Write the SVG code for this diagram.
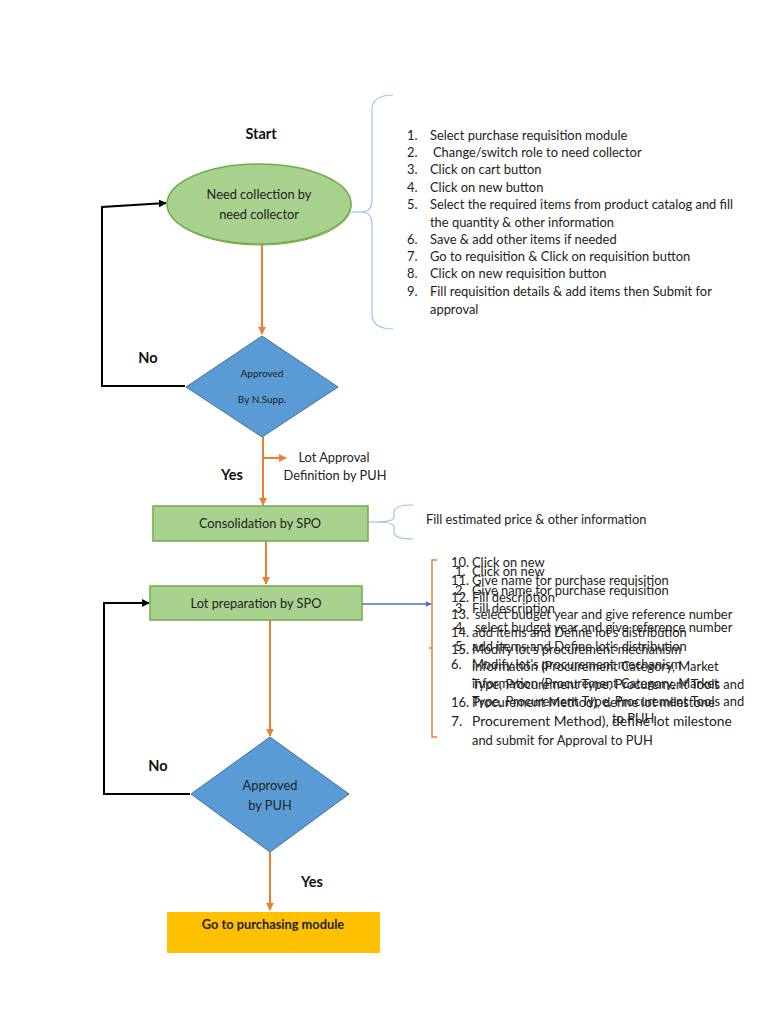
<svg xmlns="http://www.w3.org/2000/svg" width="768" height="1024" viewBox="0 0 768 1024">
<defs>
<marker id="ao" viewBox="0 0 10 10" refX="9" refY="5" markerWidth="4" markerHeight="4" orient="auto"><path d="M0,0 L10,5 L0,10 z" fill="#ED7D31"/></marker>
<marker id="ak" viewBox="0 0 10 10" refX="9" refY="5" markerWidth="4" markerHeight="4" orient="auto"><path d="M0,0 L10,5 L0,10 z" fill="#000"/></marker>
<marker id="ab" viewBox="0 0 10 10" refX="9" refY="5" markerWidth="4" markerHeight="4" orient="auto"><path d="M0,0 L10,5 L0,10 z" fill="#4472C4"/></marker>
</defs>
<style>
text{font-family:Lato,"Liberation Sans",sans-serif;fill:#222;}
.t{font-size:12.8px;}
.b{font-weight:bold;font-size:14.5px;fill:#111;}
.l{font-size:12.9px;}
.g{fill:#A9D18E;stroke:#70AD47;stroke-width:1.5;}
.d{fill:#5B9BD5;stroke:#41719C;stroke-width:1;}
.o{stroke:#ED7D31;stroke-width:2;fill:none;}
.k{stroke:#000;stroke-width:2;fill:none;}
.br{stroke:#9DC3E6;stroke-width:1.2;fill:none;}
</style>
<rect width="768" height="1024" fill="#fff"/>
<g id="connectors">
<line class="o" x1="262" y1="244" x2="262" y2="334" marker-end="url(#ao)"/>
<polyline class="k" points="185,386 102,386 102,207 166,203" marker-end="url(#ak)"/>
<line class="o" x1="263" y1="437" x2="263" y2="505" marker-end="url(#ao)"/>
<line class="o" x1="263" y1="458" x2="286" y2="458" marker-end="url(#ao)"/>
<line class="o" x1="266" y1="541" x2="266" y2="584" marker-end="url(#ao)"/>
<line x1="362" y1="604" x2="431" y2="604" stroke="#4472C4" stroke-width="1.5" marker-end="url(#ab)"/>
<line class="o" x1="270" y1="620" x2="270" y2="736" marker-end="url(#ao)"/>
<polyline class="k" points="190,794 104,794 104,603 149,603" marker-end="url(#ak)"/>
<line class="o" x1="270" y1="852" x2="270" y2="910" marker-end="url(#ao)"/>
<line x1="351" y1="212" x2="362" y2="212" stroke="#9DC3E6" stroke-width="1.2"/>
<line x1="368" y1="522" x2="375" y2="522" stroke="#9DC3E6" stroke-width="1.2"/>
</g>
<text class="b" x="261" y="139" text-anchor="middle" font-size="16">Start</text>
<g id="need">
<ellipse cx="260" cy="206" rx="91" ry="39" fill="none" stroke="#70AD47" stroke-width="1"/>
<ellipse class="g" cx="259" cy="204" rx="92" ry="40"/>
<text class="t" x="259" y="199" text-anchor="middle">Need collection by</text>
<text class="t" x="259" y="219" text-anchor="middle">need collector</text>
</g>
<g id="brace1">
<path class="br" d="M393,95 Q372,95 372,110 L372,200 Q372,212 361,212 Q372,212 372,224 L372,314 Q372,329 393,329"/>
<g class="l">
<text x="407" y="140">1.</text><text x="430" y="140">Select purchase requisition module</text>
<text x="407" y="157">2.</text><text x="433" y="157">Change/switch role to need collector</text>
<text x="407" y="174">3.</text><text x="430" y="174">Click on cart button</text>
<text x="407" y="192">4.</text><text x="430" y="192">Click on new button</text>
<text x="407" y="209">5.</text><text x="430" y="209">Select the required items from product catalog and fill</text>
<text x="430" y="227">the quantity &amp; other information</text>
<text x="407" y="244">6.</text><text x="430" y="244">Save &amp; add other items if needed</text>
<text x="407" y="261">7.</text><text x="430" y="261">Go to requisition &amp; Click on requisition button</text>
<text x="407" y="278">8.</text><text x="430" y="278">Click on new requisition button</text>
<text x="407" y="296">9.</text><text x="430" y="296">Fill requisition details &amp; add items then Submit for</text>
<text x="430" y="314">approval</text>
</g>
</g>
<g id="nsupp">
<polygon class="d" points="262,336 338,387 262,437 186,387"/>
<text x="262" y="377" text-anchor="middle" font-size="10">Approved</text>
<text x="262" y="403" text-anchor="middle" font-size="10">By N.Supp.</text>
</g>
<text class="b" x="148" y="363" text-anchor="middle">No</text>
<text class="b" x="232" y="480" text-anchor="middle">Yes</text>
<g id="lotapproval">
<text class="t" x="334" y="462" text-anchor="middle" font-size="13.2">Lot Approval</text>
<text class="t" x="335" y="480" text-anchor="middle" font-size="13.2">Definition by PUH</text>
</g>
<g id="consolidation">
<rect class="g" x="153" y="506" width="215" height="35"/>
<text class="t" x="260" y="528" text-anchor="middle">Consolidation by SPO</text>
</g>
<g id="brace2">
<path class="br" d="M413,505 Q394,505 394,512 L394,517 Q394,522 375,522 Q394,522 394,527 L394,532 Q394,539 413,539"/>
<text class="t" x="426" y="524">Fill estimated price &amp; other information</text>
</g>
<g id="lotprep">
<rect class="g" x="150" y="586" width="212" height="34"/>
<text class="t" x="256" y="608" text-anchor="middle">Lot preparation by SPO</text>
</g>
<g id="bracket">
<path d="M437,560 L432,560 L432,737 L437,737 M432,648 L429,648" stroke="#ED7D31" stroke-width="1.5" fill="none"/>
<g class="l">
<text x="451" y="567">10.</text><text x="472" y="567">Click on new</text>
<text x="451" y="585">11.</text><text x="472" y="585">Give name for purchase requisition</text>
<text x="451" y="602">12.</text><text x="472" y="602">Fill description</text>
<text x="451" y="619">13.</text><text x="475" y="619">select budget year and give reference number</text>
<text x="451" y="637">14.</text><text x="472" y="637">add items and  Define lot's distribution</text>
<text x="451" y="654">15.</text><text x="472" y="654">Modify lot's procurement mechanism</text>
<text x="472" y="671">information (Procurement Category, Market</text>
<text x="472" y="689">Type, Procurement Type, Procurement Tools and</text>
<text x="451" y="707">16.</text><text x="472" y="707">Procurement Method), define lot milestone</text>
<text x="612" y="723">to PUH</text>
</g>
<g class="l">
<text x="455" y="576">1.</text><text x="472" y="576">Click on new</text>
<text x="455" y="595">2.</text><text x="472" y="595">Give name for purchase requisition</text>
<text x="455" y="613">3.</text><text x="472" y="613">Fill description</text>
<text x="455" y="632">4.</text><text x="475" y="632">select budget year and give reference number</text>
<text x="455" y="651">5.</text><text x="472" y="651">add items and  Define lot's distribution</text>
<text x="451" y="669">6.</text><text x="472" y="669">Modify lot's procurement mechanism</text>
<text x="472" y="688">information (Procurement Category, Market</text>
<text x="472" y="706">Type, Procurement Type, Procurement Tools and</text>
<text x="451" y="726" font-size="13.8">7.</text><text x="472" y="726" font-size="13.8">Procurement Method), define lot milestone</text>
<text x="472" y="745">and submit for Approval to PUH</text>
</g>
</g>
<g id="puh">
<polygon class="d" points="270,737 349,794 270,852 191,794"/>
<text class="t" x="270" y="790" text-anchor="middle">Approved</text>
<text class="t" x="270" y="810" text-anchor="middle">by PUH</text>
</g>
<text class="b" x="158" y="771" text-anchor="middle">No</text>
<text class="b" x="312" y="887" text-anchor="middle">Yes</text>
<g id="purchasing">
<rect x="167" y="912" width="213" height="41" fill="#FFC000"/>
<text x="273" y="929" text-anchor="middle" font-weight="bold" font-size="12.8" fill="#111">Go to purchasing module</text>
</g>
</svg>
